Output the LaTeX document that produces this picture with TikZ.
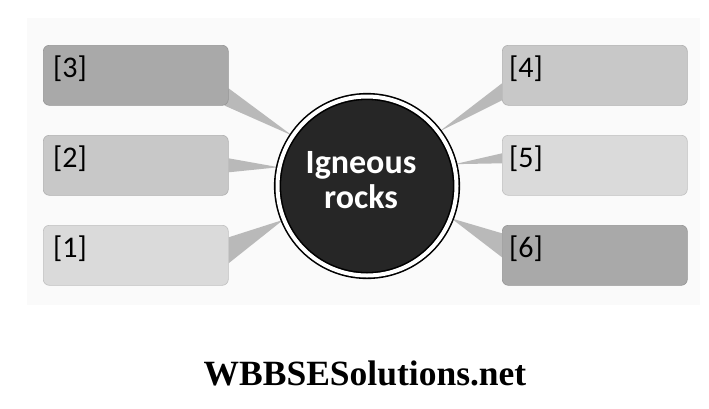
\documentclass[tikz,border=0pt]{standalone}
\usepackage{fontspec}
\newfontfamily\calfont{Carlito}
\newfontfamily\sitefont{Liberation Serif}
\usetikzlibrary{calc,backgrounds}
\definecolor{boxdark}{HTML}{A9A9A9}
\definecolor{boxmid}{HTML}{C8C8C8}
\definecolor{boxlight}{HTML}{DADADA}
\definecolor{tailgray}{HTML}{B9B9B9}
\definecolor{discgray}{HTML}{262626}
\definecolor{photobg}{HTML}{FAFAFA}
\tikzset{
	rockbox/.style={rectangle, rounded corners=6pt, minimum width=185pt, minimum height=60pt, anchor=north west, inner sep=0pt, draw=#1!88!black, line width=0.6pt, fill=#1},
	numlabel/.style={anchor=base west, inner sep=0pt, font=\calfont\fontsize{30}{30}\selectfont},
	disc/.style={circle, minimum size=179pt, inner sep=0pt, fill=discgray, draw=black, double=white, double distance=4pt, line width=1.6pt},
	tail/.style={fill=tailgray}
}
\begin{document}
\begin{tikzpicture}[x=1pt, y=-1pt, line join=round]
	\useasboundingbox (0,0) rectangle (709,408);
	\node[rockbox=boxdark] (b3) at (43,45) {};
	\node[rockbox=boxmid] (b2) at (43,135) {};
	\node[rockbox=boxlight] (b1) at (43,225) {};
	\node[rockbox=boxmid] (b4) at (502,45) {};
	\node[rockbox=boxlight] (b5) at (502,135) {};
	\node[rockbox=boxdark] (b6) at (502,225) {};
	\node[numlabel] (n3) at ($(b3.north west)+(10,32)$) {[3]};
	\node[numlabel] (n2) at ($(b2.north west)+(10,32)$) {[2]};
	\node[numlabel] (n1) at ($(b1.north west)+(10,32)$) {[1]};
	\node[numlabel] (n4) at ($(b4.north west)+(7,32)$) {[4]};
	\node[numlabel] (n5) at ($(b5.north west)+(7,32)$) {[5]};
	\node[numlabel] (n6) at ($(b6.north west)+(7,32)$) {[6]};
	\node[disc] (rock) at (367,186) {};
	\node[align=center, text=white, inner sep=0pt, font=\calfont\bfseries\fontsize{34}{35}\selectfont] (rocktext) at ($(rock.center)+(-6,-6)$) {Igneous\\rocks};
	\node[anchor=base, inner sep=0pt, font=\sitefont\bfseries\fontsize{35.5}{36}\selectfont] (site) at (365,385) {WBBSESolutions.net};
	\begin{scope}[on background layer]
		\fill[photobg] (27,18) rectangle (700,305);
		\fill[tail] ($(b3.east)+(0,13)$) -- (rock.146) -- ($(b3.south east)+(-4,0)$) -- cycle;
		\fill[tail] ($(b2.east)+(0,-7)$) -- (rock.168) -- ($(b2.east)+(0,7)$) -- cycle;
		\fill[tail] ($(b1.east)+(0,-18)$) -- (rock.202) -- ($(b1.east)+(0,8)$) -- cycle;
		\fill[tail] ($(b4.west)+(0,8)$) -- (rock.37) -- ($(b4.west)+(0,25)$) -- cycle;
		\fill[tail] ($(b5.west)+(0,-12)$) -- (rock.14) -- ($(b5.west)+(0,-2)$) -- cycle;
		\fill[tail] ($(b6.west)+(0,-22)$) -- (rock.-21) -- ($(b6.west)+(0,2)$) -- cycle;
	\end{scope}
\end{tikzpicture}
\end{document}
